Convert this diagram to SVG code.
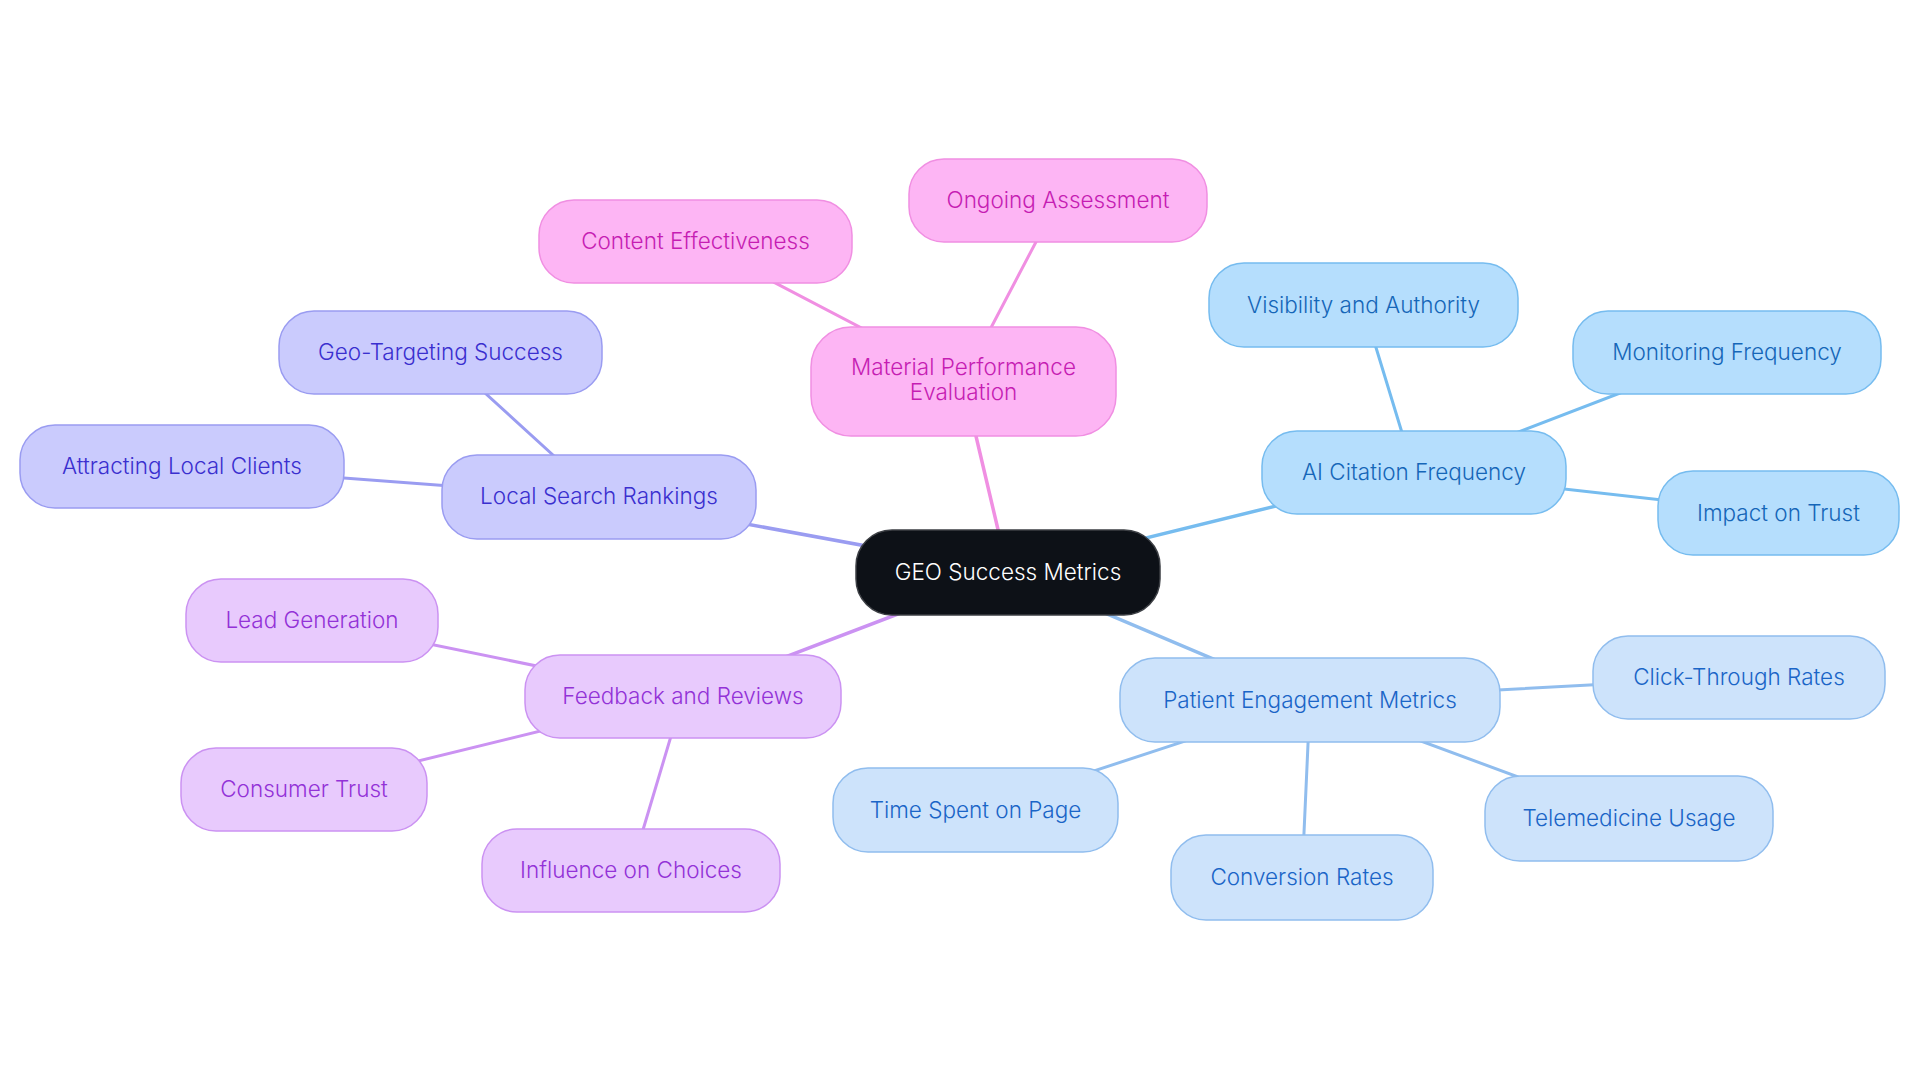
<svg xmlns="http://www.w3.org/2000/svg" width="1920" height="1083" viewBox="0 0 1920 1083">
<style>
text{font-family:Inter,"Open Sans","Liberation Sans",sans-serif;font-size:22.5px;font-weight:300;text-anchor:middle;dominant-baseline:central}
rect{stroke-width:1.5}
.root rect{fill:#0d1117;stroke:#3c3f44}
.root text{fill:#ffffff}
.pink rect{fill:#fdb5f4;stroke:#f08fe2}
.pink text{fill:#c61db3}
.indigo rect{fill:#cacbfd;stroke:#9a9cf1}
.indigo text{fill:#3a2fcf}
.sky rect{fill:#b5defd;stroke:#76bcef}
.sky text{fill:#1566b8}
.pale rect{fill:#cde3fb;stroke:#90bdee}
.pale text{fill:#1a65c7}
.violet rect{fill:#e8cafd;stroke:#cb92f2}
.violet text{fill:#9332d7}
#edges line{stroke-width:3;stroke-linecap:round}
.ep{stroke:#f08fe2}.ei{stroke:#9a9cf1}.es{stroke:#76bcef}.ea{stroke:#90bdee}.ev{stroke:#cb92f2}
</style>
<rect width="1920" height="1083" fill="#ffffff"/>
<g id="edges">
<line class="ep" x1="1008" y1="572" x2="963" y2="381" style="stroke-width:3.5"/>
<line class="ep" x1="963" y1="381" x2="695" y2="241"/>
<line class="ep" x1="963" y1="381" x2="1058" y2="200"/>
<line class="ei" x1="1008" y1="572" x2="599" y2="497" style="stroke-width:3.5"/>
<line class="ei" x1="599" y1="497" x2="440" y2="352"/>
<line class="ei" x1="599" y1="497" x2="182" y2="466"/>
<line class="es" x1="1008" y1="572" x2="1414" y2="472" style="stroke-width:3.5"/>
<line class="es" x1="1414" y1="472" x2="1363" y2="305"/>
<line class="es" x1="1414" y1="472" x2="1727" y2="352"/>
<line class="es" x1="1414" y1="472" x2="1778" y2="513"/>
<line class="ev" x1="1008" y1="572" x2="683" y2="696" style="stroke-width:3.5"/>
<line class="ev" x1="683" y1="696" x2="312" y2="620"/>
<line class="ev" x1="683" y1="696" x2="304" y2="789"/>
<line class="ev" x1="683" y1="696" x2="631" y2="870"/>
<line class="ea" x1="1008" y1="572" x2="1310" y2="700" style="stroke-width:3.5"/>
<line class="ea" x1="1310" y1="700" x2="1739" y2="677"/>
<line class="ea" x1="1310" y1="700" x2="975" y2="810"/>
<line class="ea" x1="1310" y1="700" x2="1302" y2="877"/>
<line class="ea" x1="1310" y1="700" x2="1629" y2="818"/>
</g>
<g id="root" class="root"><rect x="856" y="530" width="304" height="85" rx="36"/><text x="1008" y="571">GEO Success Metrics</text></g>
<g id="material" class="pink"><rect x="811" y="327" width="305" height="109" rx="40"/><text x="963.5" y="366">Material Performance</text><text x="963.5" y="391">Evaluation</text></g>
<g id="content" class="pink"><rect x="539" y="200" width="313" height="83" rx="35"/><text x="695.5" y="240.5">Content Effectiveness</text></g>
<g id="ongoing" class="pink"><rect x="909" y="159" width="298" height="83" rx="35"/><text x="1058" y="199.5">Ongoing Assessment</text></g>
<g id="local" class="indigo"><rect x="442" y="455" width="314" height="84" rx="35"/><text x="599" y="495.5">Local Search Rankings</text></g>
<g id="geo" class="indigo"><rect x="279" y="311" width="323" height="83" rx="35"/><text x="440.5" y="351.5">Geo-Targeting Success</text></g>
<g id="attracting" class="indigo"><rect x="20" y="425" width="324" height="83" rx="35"/><text x="182" y="465.5">Attracting Local Clients</text></g>
<g id="ai" class="sky"><rect x="1262" y="431" width="304" height="83" rx="35"/><text x="1414" y="471.5">AI Citation Frequency</text></g>
<g id="visibility" class="sky"><rect x="1209" y="263" width="309" height="84" rx="35"/><text x="1363.5" y="304">Visibility and Authority</text></g>
<g id="monitoring" class="sky"><rect x="1573" y="311" width="308" height="83" rx="35"/><text x="1727" y="351.5">Monitoring Frequency</text></g>
<g id="impact" class="sky"><rect x="1658" y="471" width="241" height="84" rx="35"/><text x="1778.5" y="512">Impact on Trust</text></g>
<g id="feedback" class="violet"><rect x="525" y="655" width="316" height="83" rx="35"/><text x="683" y="695.5">Feedback and Reviews</text></g>
<g id="lead" class="violet"><rect x="186" y="579" width="252" height="83" rx="35"/><text x="312" y="619.5">Lead Generation</text></g>
<g id="consumer" class="violet"><rect x="181" y="748" width="246" height="83" rx="35"/><text x="304" y="788.5">Consumer Trust</text></g>
<g id="influence" class="violet"><rect x="482" y="829" width="298" height="83" rx="35"/><text x="631" y="869.5">Influence on Choices</text></g>
<g id="patient" class="pale"><rect x="1120" y="658" width="380" height="84" rx="35"/><text x="1310" y="699">Patient Engagement Metrics</text></g>
<g id="click" class="pale"><rect x="1593" y="636" width="292" height="83" rx="35"/><text x="1739" y="676.5">Click-Through Rates</text></g>
<g id="time" class="pale"><rect x="833" y="768" width="285" height="84" rx="35"/><text x="975.5" y="809">Time Spent on Page</text></g>
<g id="conversion" class="pale"><rect x="1171" y="835" width="262" height="85" rx="35"/><text x="1302" y="876.5">Conversion Rates</text></g>
<g id="telemedicine" class="pale"><rect x="1485" y="776" width="288" height="85" rx="35"/><text x="1629" y="817.5">Telemedicine Usage</text></g>
</svg>
